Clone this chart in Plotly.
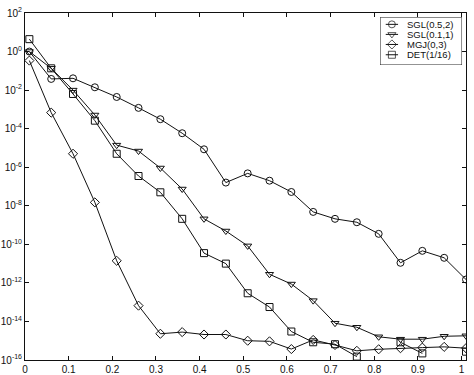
import plotly.graph_objects as go

# ---- data ----
x_vals = [0.01, 0.06, 0.11, 0.16, 0.21, 0.26, 0.31, 0.36, 0.41, 0.46, 0.51,
          0.56, 0.61, 0.66, 0.71, 0.76, 0.81, 0.86, 0.91, 0.96, 1.01]

sgl_05_2 = [1.0e0, 3.8e-2, 4.1e-2, 1.4e-2, 4.4e-3, 1.2e-3, 3.1e-4, 5.8e-5, 8.5e-6,
            1.6e-7, 4.8e-7, 2.0e-7, 5.2e-8, 4.8e-9, 2.1e-9, 1.4e-9, 3.5e-10,
            1.1e-11, 4.6e-11, 2.0e-11, 1.5e-12]

sgl_01_1 = [1.0e0, 1.35e-1, 1.0e-2, 5.1e-4, 1.4e-5, 6.9e-6, 9.1e-7, 7.4e-8, 2.1e-9,
            4.9e-10, 8.3e-11, 2.8e-12, 8.7e-13, 1.2e-13, 8.1e-15, 5.0e-15, 1.6e-15,
            1.2e-15, 1.2e-15, 1.7e-15, 1.8e-15]

mgj_0_3 = [3.4e-1, 6.8e-4, 5.0e-6, 1.5e-8, 1.4e-11, 6.6e-14, 2.3e-15, 2.8e-15, 2.1e-15,
           2.1e-15, 1.0e-15, 9.3e-16, 3.7e-16, 1.1e-15, 6.0e-16, 3.0e-16, 3.6e-16,
           4.1e-16, 4.4e-16, 4.8e-16, 4.1e-16]

det_1_16 = [4.4e0, 1.35e-1, 6.3e-3, 2.6e-4, 5.0e-6, 3.5e-7, 5.0e-8, 2.1e-9, 3.5e-11,
            1.0e-11, 2.9e-13, 5.6e-14, 3.0e-15, 8.3e-16, 6.6e-16, 1.5e-16, None,
            8.3e-16, 2.2e-16, None, 2.7e-16]

series_names = ["SGL(0.5,2)", "SGL(0.1,1)", "MGJ(0,3)", "DET(1/16)"]
series_values = [sgl_05_2, sgl_01_1, mgj_0_3, det_1_16]
series_symbols = ["circle-open", "triangle-down-open", "diamond-open", "square-open"]

x_tick_vals = [0, 0.1, 0.2, 0.3, 0.4, 0.5, 0.6, 0.7, 0.8, 0.9, 1.0]
x_tick_text = ["0", "0.1", "0.2", "0.3", "0.4", "0.5", "0.6", "0.7", "0.8", "0.9", "1"]
y_exponents = [2, 0, -2, -4, -6, -8, -10, -12, -14, -16]

FONT = "Liberation Sans, Arial, Helvetica, sans-serif"
INK = "#111111"

fig = go.Figure()

for name, vals, sym in zip(series_names, series_values, series_symbols):
    fig.add_trace(go.Scatter(
        x=x_vals, y=vals, name=name, mode="lines+markers",
        line=dict(color=INK, width=1),
        marker=dict(symbol=sym, size=7, color=INK, line=dict(color=INK, width=1)),
        connectgaps=False, showlegend=False, cliponaxis=True,
    ))

# ---- custom legend (drawn on a small hidden subplot) ----
row_y = [0.85, 0.64, 0.43, 0.215]
for name, sym, ry in zip(series_names, series_symbols, row_y):
    fig.add_trace(go.Scatter(
        x=[0.07, 0.145, 0.22], y=[ry, ry, ry], mode="lines+markers",
        xaxis="x2", yaxis="y2",
        line=dict(color=INK, width=1),
        marker=dict(symbol=sym, size=[0, 7, 0], color=INK, line=dict(color=INK, width=1)),
        showlegend=False, hoverinfo="skip",
    ))
    fig.add_annotation(
        x=0.31, y=ry, xref="x2", yref="y2", text=name, showarrow=False,
        xanchor="left", yanchor="middle", font=dict(family=FONT, size=9.5, color=INK),
    )

fig.add_shape(type="rect", xref="x2", yref="y2", x0=0, x1=1, y0=0, y1=1,
              line=dict(color=INK, width=1), fillcolor="rgba(0,0,0,0)", layer="above")

axis_common = dict(
    showline=True, linecolor=INK, linewidth=1, mirror="ticks",
    ticks="inside", ticklen=4, tickwidth=1, tickcolor=INK,
    showgrid=False, zeroline=False,
    tickfont=dict(family=FONT, size=10, color=INK),
)

fig.update_layout(
    width=474, height=375,
    margin=dict(l=25, r=8, t=13, b=15, pad=0),
    paper_bgcolor="white", plot_bgcolor="white",
    font=dict(family=FONT, size=10, color=INK),
    xaxis=dict(range=[0, 1.01], tickvals=x_tick_vals, ticktext=x_tick_text,
               automargin=False, domain=[0, 1], **axis_common),
    yaxis=dict(type="log", range=[-16, 2],
               tickvals=[10.0 ** e for e in y_exponents],
               ticktext=["10<sup>%d</sup>" % e for e in y_exponents],
               automargin=False, **axis_common),
    xaxis2=dict(domain=[0.805, 0.991], range=[0, 1], visible=False, anchor="y2",
                fixedrange=True),
    yaxis2=dict(domain=[0.85, 0.988], range=[0, 1], visible=False, anchor="x2",
                fixedrange=True),
    showlegend=False,
)

fig.write_html(
    "out.html",
    config={"displayModeBar": False},
    post_script="document.body.style.margin='0';document.body.style.padding='0';"
                "document.body.style.overflow='hidden';",
)
